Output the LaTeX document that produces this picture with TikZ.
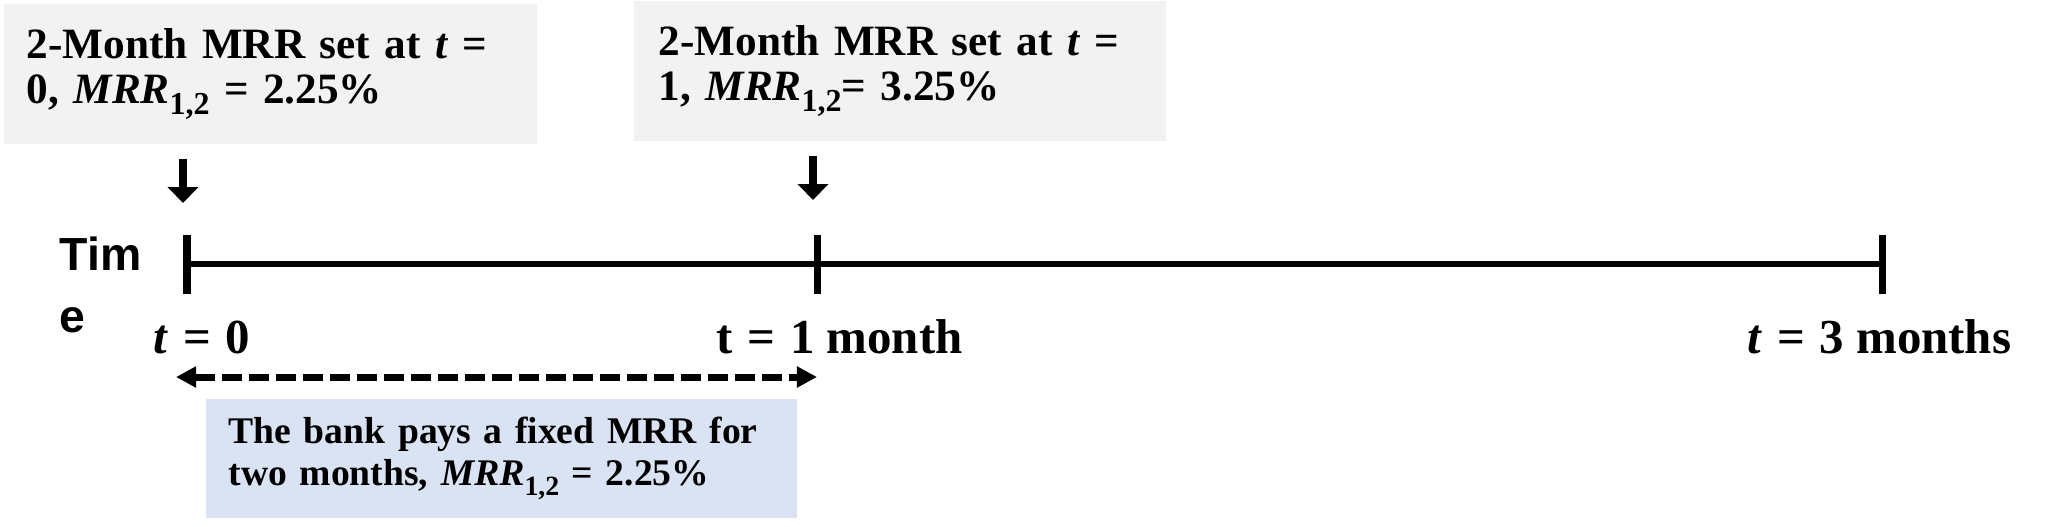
\documentclass[tikz,border=0pt]{standalone}
\usepackage{fontspec}
\setmainfont{Liberation Serif}
\newfontfamily\axisfont{Liberation Sans}
\usepackage{tikz}
\usetikzlibrary{arrows.meta,calc}
\definecolor{boxgray}{HTML}{F2F2F2}
\definecolor{boxblue}{HTML}{DAE3F3}
\newcommand{\lowsub}[1]{\raisebox{-0.25em}{\scalebox{0.74}{#1}}}
\newcommand{\teq}{\hspace{0.3em}=\hspace{0.3em}}

\begin{document}
\begin{tikzpicture}[x=0.01cm,y=-0.01cm,
ratebox/.style={fill=boxgray,anchor=north west,align=left,inner ysep=0pt,minimum height=1.4cm,font=\fontsize{12.3}{12.8}\selectfont\bfseries},
fixbox/.style={fill=boxblue,anchor=north west,align=left,inner ysep=0pt,minimum height=1.19cm,text width=5.45cm,inner xsep=0.23cm,font=\fontsize{10.7}{12}\selectfont\bfseries},
axisline/.style={line width=0.06cm},
tickmark/.style={line width=0.07cm},
setarrow/.style={line width=0.08cm,-{Triangle[width=0.3cm,length=0.16cm]}},
spanarrow/.style={line width=0.07cm,dash pattern=on 0.2cm off 0.07cm,{Triangle[width=0.2cm,length=0.2cm]}-{Triangle[width=0.2cm,length=0.2cm]}},
timelabel/.style={anchor=base west,inner sep=0pt,font=\fontsize{13.9}{13.9}\selectfont\bfseries}]
\useasboundingbox (0,0) rectangle (2048,526);
\node[ratebox,text width=4.87cm,inner xsep=0.23cm] (set0) at (3,3) {2-Month MRR set at \textit{t} =\\0, \textit{MRR}\lowsub{1,2} = 2.25\%};
\node[ratebox,text width=4.82cm,inner xsep=0.25cm] (set1) at (633,0) {2-Month MRR set at \textit{t} =\\1, \textit{MRR}\lowsub{1,2}= 3.25\%};
\coordinate (t0) at (187,264);
\coordinate (t1) at (817,264);
\coordinate (t3) at (1882,264);
\draw[axisline] (t0) -- (t3);
\foreach \p in {t0,t1,t3}
  \draw[tickmark] ($(\p)+(0,-29)$) -- ($(\p)+(0,30)$);
\coordinate (s0) at (183,159);
\coordinate (e0) at (183,203);
\coordinate (s1) at (813,156);
\coordinate (e1) at (813,200);
\draw[setarrow] (s0) -- (e0);
\draw[setarrow] (s1) -- (e1);
\node[anchor=base west,align=left,inner sep=0pt,font=\axisfont\fontsize{13.2}{17.6}\selectfont\bfseries] (timeword) at (59,332) {Tim\\e};
\node[timelabel] (lab0) at (153,353) {\textit{t}\teq0};
\node[timelabel] (lab1) at (716,353) {t\teq1 month};
\node[timelabel] (lab3) at (1747,353) {\textit{t}\teq3 months};
\coordinate (d0) at (176,377);
\coordinate (d1) at (817,377);
\draw[spanarrow] (d0) -- (d1);
\node[fixbox] (fixed) at (205,398) {The bank pays a fixed MRR for\\two months, \textit{MRR}\lowsub{1,2} = 2.25\%};
\end{tikzpicture}
\end{document}
